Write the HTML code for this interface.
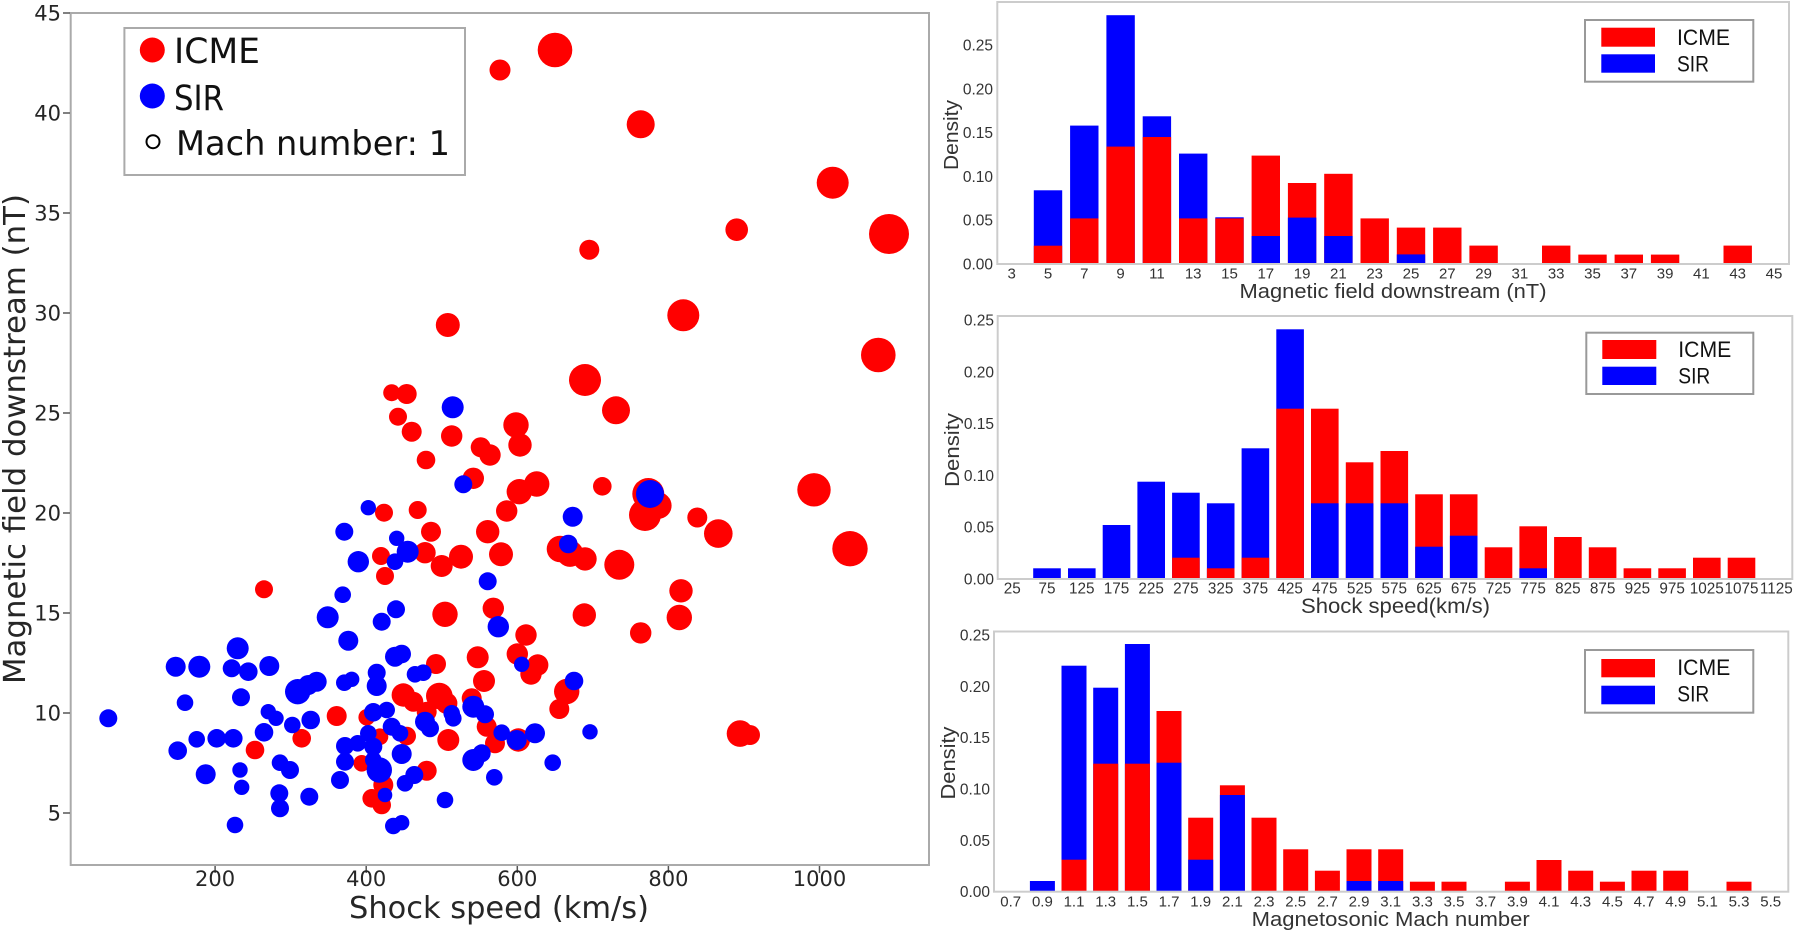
<!DOCTYPE html>
<html><head><meta charset="utf-8"><style>
html,body{margin:0;padding:0;background:#fff;}
svg{display:block;}
.s{font-family:"DejaVu Sans","Liberation Sans",sans-serif;fill:#262626;}
.h{font-family:"Liberation Sans",Arial,sans-serif;fill:#333;}
</style></head><body>
<svg width="1794" height="930" viewBox="0 0 1794 930" xmlns="http://www.w3.org/2000/svg">
<rect width="1794" height="930" fill="#fff"/>

<!-- ================= SCATTER ================= -->
<g fill="#ff0000">
<circle cx="555" cy="50" r="17.3"/><circle cx="500" cy="70" r="10.5"/><circle cx="640.7" cy="124.3" r="14"/>
<circle cx="832.7" cy="182.7" r="16"/><circle cx="889" cy="234" r="20"/><circle cx="736.7" cy="229.7" r="11.3"/>
<circle cx="589.3" cy="249.7" r="10"/><circle cx="447.8" cy="325" r="12"/><circle cx="683.3" cy="315.3" r="16"/>
<circle cx="878.3" cy="355" r="17.3"/><circle cx="585" cy="380" r="16"/><circle cx="616" cy="410.3" r="14"/>
<circle cx="391.7" cy="392.7" r="8.5"/><circle cx="406.7" cy="394" r="10"/><circle cx="398" cy="416.7" r="9"/>
<circle cx="411.7" cy="431.7" r="10"/><circle cx="451.7" cy="436" r="10.7"/><circle cx="426" cy="460" r="9.3"/>
<circle cx="516" cy="425" r="12.7"/><circle cx="520" cy="445" r="11.7"/><circle cx="480.7" cy="447.3" r="10"/>
<circle cx="490" cy="455" r="10.7"/><circle cx="473.3" cy="478.3" r="10.7"/><circle cx="519.3" cy="491.7" r="12.7"/>
<circle cx="536.7" cy="484" r="12.7"/><circle cx="506.7" cy="511" r="10.7"/><circle cx="384" cy="512.7" r="9"/>
<circle cx="417.7" cy="510" r="9"/><circle cx="431" cy="531.7" r="10"/><circle cx="487.7" cy="531.7" r="11.7"/>
<circle cx="381" cy="556" r="9"/><circle cx="425" cy="552.7" r="10.7"/><circle cx="441.7" cy="566" r="11"/>
<circle cx="461" cy="556.7" r="12"/><circle cx="501" cy="554.3" r="12"/><circle cx="385" cy="576" r="9"/>
<circle cx="264" cy="589.3" r="9"/><circle cx="445" cy="614.3" r="12.7"/><circle cx="493.3" cy="608.3" r="10.7"/>
<circle cx="526" cy="635" r="10.7"/><circle cx="477.7" cy="657.3" r="11"/><circle cx="517.3" cy="654" r="10.7"/>
<circle cx="537.7" cy="665" r="10.7"/><circle cx="531" cy="674" r="10.7"/><circle cx="484" cy="681" r="11"/>
<circle cx="436" cy="664" r="10"/><circle cx="403.3" cy="695" r="11.7"/><circle cx="413.3" cy="701.7" r="10"/>
<circle cx="439.3" cy="696" r="13.3"/><circle cx="446.7" cy="703.3" r="10.7"/><circle cx="426.7" cy="711.7" r="10"/>
<circle cx="471.7" cy="698.3" r="10"/><circle cx="336.7" cy="716" r="10"/><circle cx="366.7" cy="717.3" r="8.3"/>
<circle cx="301.7" cy="738.3" r="9.3"/><circle cx="255" cy="750" r="9.3"/><circle cx="380" cy="736.7" r="8.3"/>
<circle cx="406.7" cy="736" r="9.3"/><circle cx="448.3" cy="740" r="11"/><circle cx="486.7" cy="726.7" r="10"/>
<circle cx="495" cy="743.3" r="10"/><circle cx="518.3" cy="740" r="11.7"/><circle cx="361.7" cy="763.3" r="8.3"/>
<circle cx="426.7" cy="770.7" r="10"/><circle cx="383.3" cy="785" r="10"/><circle cx="371.7" cy="798.3" r="9.3"/>
<circle cx="381.7" cy="805" r="9.3"/><circle cx="602.3" cy="486.3" r="9.3"/><circle cx="648.3" cy="494" r="16"/>
<circle cx="645" cy="515" r="16"/><circle cx="658.3" cy="505.6" r="13.3"/><circle cx="697.3" cy="517.5" r="10"/>
<circle cx="718.3" cy="533.6" r="14.3"/><circle cx="814" cy="489.8" r="16.7"/><circle cx="850" cy="548.7" r="17.7"/>
<circle cx="560" cy="549" r="13.3"/><circle cx="570" cy="553.6" r="13.3"/><circle cx="585" cy="558.9" r="11.7"/>
<circle cx="619.3" cy="564.8" r="15"/><circle cx="681" cy="590.8" r="11.7"/><circle cx="679.3" cy="617.5" r="12.7"/>
<circle cx="584.3" cy="615" r="11.7"/><circle cx="640.7" cy="632.9" r="10.7"/><circle cx="566.7" cy="691.5" r="12.7"/>
<circle cx="559.3" cy="709" r="10"/><circle cx="740" cy="733.6" r="13.3"/><circle cx="750" cy="735" r="10"/>
</g>
<g fill="#0000ff">
<circle cx="452.7" cy="407.3" r="11"/><circle cx="463.3" cy="484.3" r="9"/><circle cx="368.3" cy="507.7" r="7.7"/>
<circle cx="344.3" cy="531.7" r="9"/><circle cx="396.7" cy="538.3" r="7.7"/><circle cx="407.7" cy="551.7" r="11"/>
<circle cx="395" cy="561.7" r="8.3"/><circle cx="358.3" cy="561.7" r="10.7"/><circle cx="487.7" cy="581.3" r="9"/>
<circle cx="342.7" cy="594.7" r="8.3"/><circle cx="327.7" cy="617.3" r="11"/><circle cx="381.7" cy="621.7" r="9"/>
<circle cx="396" cy="609.3" r="9"/><circle cx="348.3" cy="640.7" r="10"/><circle cx="498.3" cy="626.7" r="10.7"/>
<circle cx="237.7" cy="648.3" r="11"/><circle cx="175.7" cy="666.7" r="10"/><circle cx="199.3" cy="666.7" r="11"/>
<circle cx="231.7" cy="668.3" r="9"/><circle cx="248.3" cy="671.7" r="9.3"/><circle cx="269.3" cy="666" r="10"/>
<circle cx="395" cy="656.7" r="10"/><circle cx="401.7" cy="654" r="9.3"/><circle cx="521.7" cy="664.3" r="7.7"/>
<circle cx="415" cy="674.3" r="8.3"/><circle cx="423.3" cy="672.7" r="8.3"/><circle cx="376.7" cy="672.7" r="9"/>
<circle cx="376.7" cy="686" r="10"/><circle cx="344.3" cy="682.7" r="8.3"/><circle cx="351.7" cy="679.3" r="7.7"/>
<circle cx="297.7" cy="691.7" r="12.7"/><circle cx="316.7" cy="681.7" r="10"/><circle cx="308.3" cy="685" r="10"/>
<circle cx="185" cy="702.7" r="8.3"/><circle cx="241" cy="697.3" r="9"/><circle cx="108.3" cy="718.3" r="9"/>
<circle cx="268.3" cy="711.7" r="7.7"/><circle cx="276" cy="718.3" r="7.7"/><circle cx="292.3" cy="725" r="8.3"/>
<circle cx="310.7" cy="720" r="9.3"/><circle cx="264" cy="732.3" r="9.3"/><circle cx="373.3" cy="712.3" r="9.3"/>
<circle cx="386.7" cy="710" r="8.3"/><circle cx="451.7" cy="713.3" r="8.3"/><circle cx="453.3" cy="718.3" r="8.3"/>
<circle cx="473.3" cy="706.7" r="11"/><circle cx="485" cy="714.3" r="9"/><circle cx="425" cy="721.7" r="10"/>
<circle cx="430" cy="728.3" r="9"/><circle cx="391.7" cy="726.7" r="9"/><circle cx="400" cy="733.3" r="8.3"/>
<circle cx="368.3" cy="733.3" r="8.3"/><circle cx="196.7" cy="739.3" r="8.3"/><circle cx="216.7" cy="738.3" r="9.3"/>
<circle cx="233.3" cy="738.3" r="9.3"/><circle cx="177.7" cy="750.7" r="9.3"/><circle cx="205.7" cy="774.3" r="10"/>
<circle cx="240" cy="770" r="7.7"/><circle cx="241.7" cy="787.3" r="7.7"/><circle cx="280" cy="762.7" r="8.3"/>
<circle cx="290" cy="770" r="9"/><circle cx="279.3" cy="793.3" r="9"/><circle cx="280" cy="808.3" r="9"/>
<circle cx="309.3" cy="796.7" r="9"/><circle cx="235" cy="825" r="8.3"/><circle cx="345" cy="746" r="9"/>
<circle cx="357.7" cy="743.3" r="8.3"/><circle cx="373.3" cy="746.7" r="9"/><circle cx="345" cy="761.7" r="9"/>
<circle cx="373.3" cy="760" r="8.3"/><circle cx="379.3" cy="770" r="12.7"/><circle cx="340" cy="780" r="9"/>
<circle cx="401.7" cy="754" r="10"/><circle cx="414.3" cy="775" r="9"/><circle cx="405" cy="783.3" r="8.3"/>
<circle cx="385" cy="795" r="7.3"/><circle cx="393.3" cy="826" r="8.3"/><circle cx="401.7" cy="822.7" r="7.7"/>
<circle cx="445" cy="800" r="8.3"/><circle cx="473.3" cy="760" r="11"/><circle cx="481.7" cy="753.3" r="9"/>
<circle cx="494.3" cy="777.3" r="8.3"/><circle cx="501.7" cy="732.7" r="8.3"/><circle cx="516.7" cy="740" r="10"/>
<circle cx="535" cy="733.3" r="10"/><circle cx="552.7" cy="762.7" r="8.3"/>
<circle cx="650" cy="494" r="14"/><circle cx="572.7" cy="516.8" r="10"/><circle cx="568.3" cy="544" r="9.3"/>
<circle cx="574" cy="681" r="9.3"/><circle cx="590" cy="731.8" r="7.7"/>
</g>

<!-- scatter frame -->
<rect x="70.7" y="13" width="858.3" height="852" fill="none" stroke="#aaa" stroke-width="2"/>
<g stroke="#555" stroke-width="1.5">
<line x1="63" y1="13" x2="70" y2="13"/><line x1="63" y1="113" x2="70" y2="113"/><line x1="63" y1="213" x2="70" y2="213"/>
<line x1="63" y1="313" x2="70" y2="313"/><line x1="63" y1="413" x2="70" y2="413"/><line x1="63" y1="513" x2="70" y2="513"/>
<line x1="63" y1="613" x2="70" y2="613"/><line x1="63" y1="713" x2="70" y2="713"/><line x1="63" y1="813" x2="70" y2="813"/>
<line x1="215.1" y1="866" x2="215.1" y2="873"/><line x1="366.2" y1="866" x2="366.2" y2="873"/><line x1="517.3" y1="866" x2="517.3" y2="873"/>
<line x1="668.4" y1="866" x2="668.4" y2="873"/><line x1="819.5" y1="866" x2="819.5" y2="873"/>
</g>
<g class="s" font-size="21" text-anchor="end">
<text x="61" y="20.6">45</text><text x="61" y="120.6">40</text><text x="61" y="220.6">35</text>
<text x="61" y="320.6">30</text><text x="61" y="420.6">25</text><text x="61" y="520.6">20</text>
<text x="61" y="620.6">15</text><text x="61" y="720.6">10</text><text x="61" y="820.6">5</text>
</g>
<g class="s" font-size="21" text-anchor="middle">
<text x="215.1" y="886">200</text><text x="366.2" y="886">400</text><text x="517.3" y="886">600</text>
<text x="668.4" y="886">800</text><text x="819.5" y="886">1000</text>
</g>
<text class="s" x="499" y="918" font-size="30" text-anchor="middle" textLength="300" lengthAdjust="spacingAndGlyphs">Shock speed (km/s)</text>
<text class="s" transform="translate(25,439) rotate(-90)" font-size="30" text-anchor="middle" textLength="490" lengthAdjust="spacingAndGlyphs">Magnetic field downstream (nT)</text>

<!-- scatter legend -->
<rect x="124.4" y="28" width="340.6" height="147" fill="#fff" stroke="#aaa" stroke-width="2"/>
<circle cx="152.3" cy="50" r="12.5" fill="#ff0000"/>
<circle cx="152.3" cy="96" r="12.5" fill="#0000ff"/>
<circle cx="153" cy="141.7" r="6.5" fill="none" stroke="#000" stroke-width="2"/>
<text class="s" x="174" y="63" font-size="35" fill="#000" textLength="86" lengthAdjust="spacingAndGlyphs" style="fill:#111">ICME</text>
<text class="s" x="174" y="110" font-size="35" textLength="50" lengthAdjust="spacingAndGlyphs" style="fill:#111">SIR</text>
<text class="s" x="176" y="155" font-size="34" textLength="274" lengthAdjust="spacingAndGlyphs" style="fill:#111">Mach number: 1</text>

<!-- ================= HIST 1 ================= -->
<g>
<rect x="1033.8" y="190.3" width="28.4" height="73.7" fill="#0000ff"/><rect x="1033.8" y="245.7" width="28.4" height="18.3" fill="#ff0000"/>
<rect x="1070.1" y="125.6" width="28.4" height="138.4" fill="#0000ff"/><rect x="1070.1" y="218.4" width="28.4" height="45.6" fill="#ff0000"/>
<rect x="1106.4" y="15.2" width="28.4" height="248.8" fill="#0000ff"/><rect x="1106.4" y="146.6" width="28.4" height="117.4" fill="#ff0000"/>
<rect x="1142.7" y="116.3" width="28.4" height="147.7" fill="#0000ff"/><rect x="1142.7" y="137" width="28.4" height="127" fill="#ff0000"/>
<rect x="1179" y="153.6" width="28.4" height="110.4" fill="#0000ff"/><rect x="1179" y="218.4" width="28.4" height="45.6" fill="#ff0000"/>
<rect x="1215.3" y="217.3" width="28.4" height="46.7" fill="#0000ff"/><rect x="1215.3" y="218.4" width="28.4" height="45.6" fill="#ff0000"/>
<rect x="1251.6" y="155.6" width="28.4" height="108.4" fill="#ff0000"/><rect x="1251.6" y="236" width="28.4" height="28" fill="#0000ff"/>
<rect x="1287.9" y="183" width="28.4" height="81" fill="#ff0000"/><rect x="1287.9" y="217.6" width="28.4" height="46.4" fill="#0000ff"/>
<rect x="1324.2" y="173.8" width="28.4" height="90.2" fill="#ff0000"/><rect x="1324.2" y="236" width="28.4" height="28" fill="#0000ff"/>
<rect x="1360.5" y="218.4" width="28.4" height="45.6" fill="#ff0000"/>
<rect x="1396.8" y="227.6" width="28.4" height="36.4" fill="#ff0000"/><rect x="1396.8" y="254.4" width="28.4" height="9.6" fill="#0000ff"/>
<rect x="1433.1" y="227.6" width="28.4" height="36.4" fill="#ff0000"/>
<rect x="1469.4" y="245.6" width="28.4" height="18.4" fill="#ff0000"/>
<rect x="1542" y="245.6" width="28.4" height="18.4" fill="#ff0000"/>
<rect x="1578.3" y="254.6" width="28.4" height="9.4" fill="#ff0000"/>
<rect x="1614.6" y="254.6" width="28.4" height="9.4" fill="#ff0000"/>
<rect x="1650.9" y="254.6" width="28.4" height="9.4" fill="#ff0000"/>
<rect x="1723.5" y="245.6" width="28.4" height="18.4" fill="#ff0000"/>
</g>
<rect x="997.3" y="2" width="791.7" height="262" fill="none" stroke="#ccc" stroke-width="2"/>
<g class="h" font-size="15.5" text-anchor="end">
<text x="993" y="269.5">0.00</text><text x="993" y="225.7">0.05</text><text x="993" y="181.9">0.10</text>
<text x="993" y="138.1">0.15</text><text x="993" y="94.3">0.20</text><text x="993" y="50.5">0.25</text>
</g>
<g class="h" font-size="15" text-anchor="middle">
<text x="1011.7" y="278.5">3</text><text x="1048" y="278.5">5</text><text x="1084.3" y="278.5">7</text>
<text x="1120.6" y="278.5">9</text><text x="1156.9" y="278.5">11</text><text x="1193.2" y="278.5">13</text>
<text x="1229.5" y="278.5">15</text><text x="1265.8" y="278.5">17</text><text x="1302.1" y="278.5">19</text>
<text x="1338.4" y="278.5">21</text><text x="1374.7" y="278.5">23</text><text x="1411" y="278.5">25</text>
<text x="1447.3" y="278.5">27</text><text x="1483.6" y="278.5">29</text><text x="1519.9" y="278.5">31</text>
<text x="1556.2" y="278.5">33</text><text x="1592.5" y="278.5">35</text><text x="1628.8" y="278.5">37</text>
<text x="1665.1" y="278.5">39</text><text x="1701.4" y="278.5">41</text><text x="1737.7" y="278.5">43</text>
<text x="1774" y="278.5">45</text>
</g>
<text class="h" x="1393" y="298" font-size="20" text-anchor="middle" textLength="307" lengthAdjust="spacingAndGlyphs">Magnetic field downstream (nT)</text>
<text class="h" transform="translate(958,135) rotate(-90)" font-size="20" text-anchor="middle" textLength="70" lengthAdjust="spacingAndGlyphs">Density</text>
<rect x="1585" y="20" width="168.3" height="61.7" fill="#fff" stroke="#999" stroke-width="2"/>
<rect x="1601.3" y="27.7" width="53.7" height="19" fill="#ff0000"/>
<rect x="1601.3" y="54.3" width="53.7" height="18.4" fill="#0000ff"/>
<text class="h" x="1677" y="45" font-size="22" textLength="53" lengthAdjust="spacingAndGlyphs" style="fill:#111">ICME</text>
<text class="h" x="1677" y="71.3" font-size="22" textLength="32" lengthAdjust="spacingAndGlyphs" style="fill:#111">SIR</text>

<!-- ================= HIST 2 ================= -->
<g>
<rect x="1033.2" y="568.3" width="27.6" height="10.7" fill="#0000ff"/>
<rect x="1068" y="568.3" width="27.6" height="10.7" fill="#0000ff"/>
<rect x="1102.7" y="525" width="27.6" height="54" fill="#0000ff"/>
<rect x="1137.4" y="481.7" width="27.6" height="97.3" fill="#0000ff"/>
<rect x="1172.1" y="492.7" width="27.6" height="86.3" fill="#0000ff"/><rect x="1172.1" y="557.7" width="27.6" height="21.3" fill="#ff0000"/>
<rect x="1206.9" y="503.3" width="27.6" height="75.7" fill="#0000ff"/><rect x="1206.9" y="568.3" width="27.6" height="10.7" fill="#ff0000"/>
<rect x="1241.6" y="448.3" width="27.6" height="130.7" fill="#0000ff"/><rect x="1241.6" y="557.7" width="27.6" height="21.3" fill="#ff0000"/>
<rect x="1276.3" y="329.3" width="27.6" height="249.7" fill="#0000ff"/><rect x="1276.3" y="408.7" width="27.6" height="170.3" fill="#ff0000"/>
<rect x="1311" y="408.7" width="27.6" height="170.3" fill="#ff0000"/><rect x="1311" y="503.3" width="27.6" height="75.7" fill="#0000ff"/>
<rect x="1345.8" y="462.3" width="27.6" height="116.7" fill="#ff0000"/><rect x="1345.8" y="503.3" width="27.6" height="75.7" fill="#0000ff"/>
<rect x="1380.5" y="451" width="27.6" height="128" fill="#ff0000"/><rect x="1380.5" y="503.3" width="27.6" height="75.7" fill="#0000ff"/>
<rect x="1415.2" y="494.3" width="27.6" height="84.7" fill="#ff0000"/><rect x="1415.2" y="546.7" width="27.6" height="32.3" fill="#0000ff"/>
<rect x="1449.9" y="494.3" width="27.6" height="84.7" fill="#ff0000"/><rect x="1449.9" y="535.7" width="27.6" height="43.3" fill="#0000ff"/>
<rect x="1484.7" y="547.3" width="27.6" height="31.7" fill="#ff0000"/>
<rect x="1519.4" y="526.3" width="27.6" height="52.7" fill="#ff0000"/><rect x="1519.4" y="568.3" width="27.6" height="10.7" fill="#0000ff"/>
<rect x="1554.1" y="537" width="27.6" height="42" fill="#ff0000"/>
<rect x="1588.8" y="547.3" width="27.6" height="31.7" fill="#ff0000"/>
<rect x="1623.6" y="568.3" width="27.6" height="10.7" fill="#ff0000"/>
<rect x="1658.3" y="568.3" width="27.6" height="10.7" fill="#ff0000"/>
<rect x="1693" y="557.7" width="27.6" height="21.3" fill="#ff0000"/>
<rect x="1727.7" y="557.7" width="27.6" height="21.3" fill="#ff0000"/>
</g>
<rect x="997.7" y="316" width="794.6" height="263" fill="none" stroke="#ccc" stroke-width="2"/>
<g class="h" font-size="15.5" text-anchor="end">
<text x="994" y="584.5">0.00</text><text x="994" y="532.7">0.05</text><text x="994" y="480.9">0.10</text>
<text x="994" y="429.1">0.15</text><text x="994" y="377.3">0.20</text><text x="994" y="325.5">0.25</text>
</g>
<g class="h" font-size="15.3" text-anchor="middle">
<text x="1012.3" y="593.3">25</text><text x="1047" y="593.3">75</text><text x="1081.8" y="593.3">125</text>
<text x="1116.5" y="593.3">175</text><text x="1151.2" y="593.3">225</text><text x="1185.9" y="593.3">275</text>
<text x="1220.7" y="593.3">325</text><text x="1255.4" y="593.3">375</text><text x="1290.1" y="593.3">425</text>
<text x="1324.8" y="593.3">475</text><text x="1359.6" y="593.3">525</text><text x="1394.3" y="593.3">575</text>
<text x="1429" y="593.3">625</text><text x="1463.7" y="593.3">675</text><text x="1498.5" y="593.3">725</text>
<text x="1533.2" y="593.3">775</text><text x="1567.9" y="593.3">825</text><text x="1602.6" y="593.3">875</text>
<text x="1637.4" y="593.3">925</text><text x="1672.1" y="593.3">975</text><text x="1706.8" y="593.3">1025</text>
<text x="1741.5" y="593.3">1075</text><text x="1776.3" y="593.3">1125</text>
</g>
<text class="h" x="1395.5" y="613" font-size="21" text-anchor="middle" textLength="189" lengthAdjust="spacingAndGlyphs">Shock speed(km/s)</text>
<text class="h" transform="translate(959,450) rotate(-90)" font-size="20" text-anchor="middle" textLength="74" lengthAdjust="spacingAndGlyphs">Density</text>
<rect x="1586.3" y="332.7" width="167" height="61.3" fill="#fff" stroke="#999" stroke-width="2"/>
<rect x="1602.3" y="340" width="54" height="19" fill="#ff0000"/>
<rect x="1602.3" y="366.7" width="54" height="18.3" fill="#0000ff"/>
<text class="h" x="1678.3" y="357" font-size="22" textLength="53" lengthAdjust="spacingAndGlyphs" style="fill:#111">ICME</text>
<text class="h" x="1678.3" y="383.3" font-size="22" textLength="32" lengthAdjust="spacingAndGlyphs" style="fill:#111">SIR</text>

<!-- ================= HIST 3 ================= -->
<g>
<rect x="1029.9" y="881" width="25" height="10.7" fill="#0000ff"/>
<rect x="1061.5" y="665.7" width="25" height="226" fill="#0000ff"/><rect x="1061.5" y="859.7" width="25" height="32" fill="#ff0000"/>
<rect x="1093.2" y="687.7" width="25" height="204" fill="#0000ff"/><rect x="1093.2" y="763.7" width="25" height="128" fill="#ff0000"/>
<rect x="1124.9" y="644" width="25" height="247.7" fill="#0000ff"/><rect x="1124.9" y="763.7" width="25" height="128" fill="#ff0000"/>
<rect x="1156.5" y="711" width="25" height="180.7" fill="#ff0000"/><rect x="1156.5" y="762.7" width="25" height="129" fill="#0000ff"/>
<rect x="1188.2" y="817.7" width="25" height="74" fill="#ff0000"/><rect x="1188.2" y="859.7" width="25" height="32" fill="#0000ff"/>
<rect x="1219.9" y="785.3" width="25" height="106.4" fill="#ff0000"/><rect x="1219.9" y="795" width="25" height="96.7" fill="#0000ff"/>
<rect x="1251.5" y="817.7" width="25" height="74" fill="#ff0000"/>
<rect x="1283.2" y="849.3" width="25" height="42.4" fill="#ff0000"/>
<rect x="1314.9" y="870.7" width="25" height="21" fill="#ff0000"/>
<rect x="1346.5" y="849.3" width="25" height="42.4" fill="#ff0000"/><rect x="1346.5" y="881" width="25" height="10.7" fill="#0000ff"/>
<rect x="1378.2" y="849.3" width="25" height="42.4" fill="#ff0000"/><rect x="1378.2" y="881" width="25" height="10.7" fill="#0000ff"/>
<rect x="1409.9" y="881.7" width="25" height="10" fill="#ff0000"/>
<rect x="1441.5" y="881.7" width="25" height="10" fill="#ff0000"/>
<rect x="1504.9" y="881.7" width="25" height="10" fill="#ff0000"/>
<rect x="1536.5" y="860" width="25" height="31.7" fill="#ff0000"/>
<rect x="1568.2" y="870.7" width="25" height="21" fill="#ff0000"/>
<rect x="1599.9" y="881.7" width="25" height="10" fill="#ff0000"/>
<rect x="1631.5" y="870.7" width="25" height="21" fill="#ff0000"/>
<rect x="1663.2" y="870.7" width="25" height="21" fill="#ff0000"/>
<rect x="1726.5" y="881.7" width="25" height="10" fill="#ff0000"/>
</g>
<rect x="994" y="631.5" width="794.3" height="260.2" fill="none" stroke="#ccc" stroke-width="2"/>
<g class="h" font-size="15.5" text-anchor="end">
<text x="990" y="897.2">0.00</text><text x="990" y="845.9">0.05</text><text x="990" y="794.5">0.10</text>
<text x="990" y="743.2">0.15</text><text x="990" y="691.9">0.20</text><text x="990" y="640.5">0.25</text>
</g>
<g class="h" font-size="15" text-anchor="middle">
<text x="1010.7" y="906.7">0.7</text><text x="1042.4" y="906.7">0.9</text><text x="1074" y="906.7">1.1</text>
<text x="1105.7" y="906.7">1.3</text><text x="1137.4" y="906.7">1.5</text><text x="1169" y="906.7">1.7</text>
<text x="1200.7" y="906.7">1.9</text><text x="1232.4" y="906.7">2.1</text><text x="1264" y="906.7">2.3</text>
<text x="1295.7" y="906.7">2.5</text><text x="1327.4" y="906.7">2.7</text><text x="1359" y="906.7">2.9</text>
<text x="1390.7" y="906.7">3.1</text><text x="1422.4" y="906.7">3.3</text><text x="1454" y="906.7">3.5</text>
<text x="1485.7" y="906.7">3.7</text><text x="1517.4" y="906.7">3.9</text><text x="1549" y="906.7">4.1</text>
<text x="1580.7" y="906.7">4.3</text><text x="1612.4" y="906.7">4.5</text><text x="1644" y="906.7">4.7</text>
<text x="1675.7" y="906.7">4.9</text><text x="1707.4" y="906.7">5.1</text><text x="1739" y="906.7">5.3</text>
<text x="1770.7" y="906.7">5.5</text>
</g>
<text class="h" x="1390.7" y="926" font-size="20" text-anchor="middle" textLength="278" lengthAdjust="spacingAndGlyphs">Magnetosonic Mach number</text>
<text class="h" transform="translate(955,763) rotate(-90)" font-size="20" text-anchor="middle" textLength="73" lengthAdjust="spacingAndGlyphs">Density</text>
<rect x="1585" y="650" width="168.3" height="62.7" fill="#fff" stroke="#999" stroke-width="2"/>
<rect x="1601.3" y="659" width="53.7" height="18.3" fill="#ff0000"/>
<rect x="1601.3" y="685.7" width="53.7" height="18.6" fill="#0000ff"/>
<text class="h" x="1677.3" y="675" font-size="22" textLength="53" lengthAdjust="spacingAndGlyphs" style="fill:#111">ICME</text>
<text class="h" x="1677.3" y="701.7" font-size="22" textLength="32" lengthAdjust="spacingAndGlyphs" style="fill:#111">SIR</text>
</svg>
</body></html>
